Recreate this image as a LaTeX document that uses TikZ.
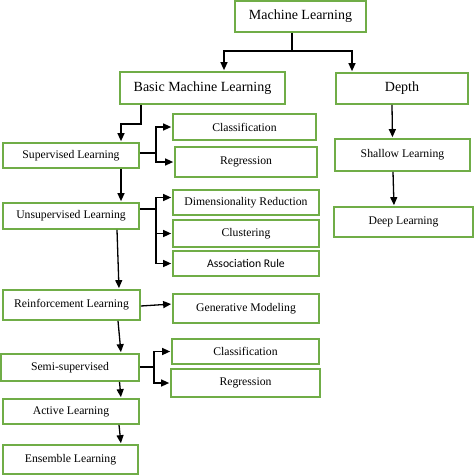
\documentclass[tikz,border=0pt]{standalone}
\usepackage{fontspec}
\setmainfont{Liberation Serif}
\newfontfamily\calibri{Carlito}
\usetikzlibrary{arrows.meta}
\definecolor{boxgreen}{RGB}{112,173,71}

\begin{document}
\begin{tikzpicture}[x=1pt, y=-1pt,
    box/.style={draw=boxgreen, line width=1.7pt, inner sep=1pt,
      font=\fontsize{11.7}{13}\selectfont},
    head/.style={box, font=\fontsize{14}{16}\selectfont},
    arr/.style={-{Triangle[length=8pt,width=7pt]}, line width=1.3pt, shorten >=1pt}]
\useasboundingbox (0,0) rectangle (474,475);

% top levels
\node[head, minimum width=131pt, minimum height=31pt] (ml) at (300.5,16.5) {Machine Learning};
\node[head, minimum width=165pt, minimum height=32pt] (bml) at (202.5,88) {Basic Machine Learning};
\node[head, minimum width=132pt, minimum height=31pt] (depth) at (402,88.5) {Depth};
\node[box, minimum width=135pt, minimum height=32pt] (shallow) at (402.5,155) {Shallow Learning};
\node[box, minimum width=139pt, minimum height=30pt] (deep) at (403.5,222) {Deep Learning};

% left column
\node[box, minimum width=136pt, minimum height=25pt] (sup) at (71,155.5) {Supervised Learning};
\node[box, minimum width=136pt, minimum height=26pt] (unsup) at (71,216) {Unsupervised Learning};
\node[box, minimum width=137pt, minimum height=30pt] (rein) at (71.5,305) {Reinforcement Learning};
\node[box, minimum width=138pt, minimum height=27pt] (semi) at (70,367.5) {Semi-supervised};
\node[box, minimum width=136pt, minimum height=25pt] (act) at (71,411.5) {Active Learning};
\node[box, minimum width=135pt, minimum height=29pt] (ens) at (70.5,459.5) {Ensemble Learning};

% middle column
\node[box, minimum width=143pt, minimum height=26pt] (cls1) at (244.5,127) {Classification};
\node[box, minimum width=142pt, minimum height=30pt] (reg1) at (246,162) {Regression};
\node[box, minimum width=146pt, minimum height=25pt] (dim) at (246,202.5) {Dimensionality Reduction};
\node[box, minimum width=146pt, minimum height=27pt] (clu) at (246,233.5) {Clustering};
\node[box, minimum width=146pt, minimum height=25pt, font=\calibri\fontsize{11.7}{13}\selectfont] (asr) at (246,263.5) {Association Rule};
\node[box, minimum width=146pt, minimum height=29pt] (gen) at (246,308.5) {Generative Modeling};
\node[box, minimum width=147pt, minimum height=25pt] (cls2) at (245.5,351.5) {Classification};
\node[box, minimum width=149pt, minimum height=28pt] (reg2) at (245.5,383) {Regression};

% forks
\coordinate (mlfork) at (292,51);
\coordinate (bmlbend) at (141,124);
\coordinate (supfork) at (156,153);
\coordinate (unsupfork) at (156,209);
\coordinate (semifork) at (154,367);

\draw[line width=1.3pt] ([xshift=-8.5pt]ml.south) -- (mlfork);
\draw[arr] (mlfork) -| ([xshift=21.5pt]bml.north);
\draw[arr] (mlfork) -| ([xshift=-50pt]depth.north);
\draw[arr] ([xshift=-10pt]depth.south) -- ([xshift=-10pt]shallow.north);
\draw[arr] ([xshift=-9.5pt]shallow.south) -- ([xshift=-9.5pt]deep.north);
\draw[arr] ([xshift=-61.5pt]bml.south) -- (bmlbend) -| ([xshift=50pt]sup.north);

\draw[line width=1.3pt] (sup.east |- supfork) -- (supfork);
\foreach \t in {cls1,reg1} \draw[arr] (supfork) |- (\t.west);
\draw[line width=1.3pt] (unsup.east |- unsupfork) -- (unsupfork);
\draw[arr] (unsupfork) |- ([yshift=5pt]dim.west);
\foreach \t in {clu,asr} \draw[arr] (unsupfork) |- (\t.west);
\draw[line width=1.3pt] (semi.east |- semifork) -- (semifork);
\foreach \t in {cls2,reg2} \draw[arr] (semifork) |- (\t.west);
\draw[arr] ([yshift=-1pt]rein.east) -- ([yshift=4.5pt]gen.west);

\foreach \u/\a/\v/\b in {sup/50/unsup/50,unsup/46/rein/47.5,rein/46.5/semi/51,semi/49.5/act/50,act/48/ens/50.5}
  \draw[arr] ([xshift=\a pt]\u.south) -- ([xshift=\b pt]\v.north);
\end{tikzpicture}
\end{document}
